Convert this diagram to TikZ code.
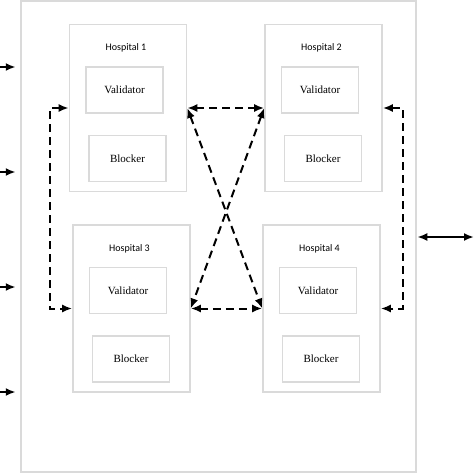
\documentclass[tikz,border=0pt]{standalone}
\usepackage{fontspec}
\setmainfont{Liberation Serif}
\newfontfamily\hosfont{Carlito}
\usetikzlibrary{arrows.meta}

\definecolor{boxgray}{RGB}{218,218,218}

\tikzset{
  sysbox/.style={draw=boxgray, line width=2.5pt, minimum width=395pt, minimum height=471pt, inner sep=0pt},
  hosbox/.style={draw=boxgray, line width=1.6pt, minimum width=117pt, minimum height=167pt, inner sep=0pt},
  partbox/.style={draw=boxgray, line width=1.4pt, minimum width=77pt, minimum height=46pt, inner sep=0pt,
    font=\fontsize{11}{13}\selectfont},
  hoslabel/.style={font=\hosfont\fontsize{10}{12}\selectfont, inner sep=0pt},
  link/.style={line width=2pt, dash pattern=on 8pt off 5pt, {Latex[length=10pt,width=8pt]}-{Latex[length=10pt,width=8pt]}},
  feed/.style={line width=2pt, -{Latex[length=10pt,width=8pt]}},
  feedboth/.style={line width=2pt, {Latex[length=10pt,width=8pt]}-{Latex[length=10pt,width=8pt]}},
}

\begin{document}
\begin{tikzpicture}[x=1pt,y=-1pt]
  \useasboundingbox (0,0) rectangle (474,474);

  \node[sysbox] (sys) at (218.5,236.5) {};

  \node[hosbox] (h1) at (128,108) {};
  \node[hosbox] (h2) at (323.5,108) {};
  \node[hosbox] (h3) at (131.5,308.5) {};
  \node[hosbox] (h4) at (321.5,308.5) {};

  \foreach \h/\n in {h1/1,h2/2,h3/3,h4/4}{
    \node[hoslabel] (\h lab) at ([xshift=-2pt,yshift=60pt]\h.center) {Hospital \n};
    \node[partbox] (\h val) at ([xshift=-3.5pt,yshift=18pt]\h.center) {Validator};
    \node[partbox] (\h blk) at ([xshift=-0.5pt,yshift=-50.5pt]\h.center) {Blocker};
  }

  % links between the hospitals
  \draw[link] (h1.west) -- ++(-19,0) |- (h3.west);
  \draw[link] (h2.east) -- ++(20,0) |- (h4.east);
  \draw[link] (h1.east) -- (h2.west);
  \draw[link] (h3.east) -- (h4.west);
  \draw[link] (h1.east) -- (h4.west);
  \draw[link] (h2.west) -- (h3.east);

  % inputs and output
  \foreach \y [count=\i] in {67,172,287,392}{
    \coordinate (in\i) at (0,\y);
    \draw[feed, shorten >=4pt] (in\i) -- (in\i -| sys.west);
  }
  \coordinate (out) at (474,237);
  \draw[feedboth] (out -| sys.east) -- (out);
\end{tikzpicture}
\end{document}
